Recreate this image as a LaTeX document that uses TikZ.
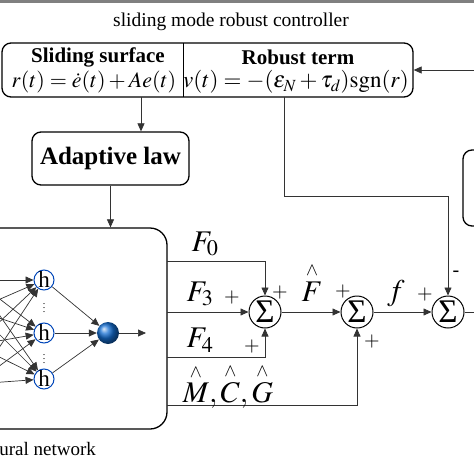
\documentclass[tikz,border=0pt]{standalone}
\usepackage{amsmath}
\usepackage{mathptmx}
\usepackage[no-math]{fontspec}
\setmainfont{Liberation Serif}
\usetikzlibrary{arrows.meta,positioning}
\tikzset{
  blk/.style={draw,rounded corners=9pt,line width=1.3pt,inner sep=0pt},
  sum/.style={circle,draw,line width=1pt,minimum size=32pt,inner sep=0pt,font=\fontsize{33}{33}\selectfont},
  hid/.style={circle,draw=blue!45!teal,line width=1pt,minimum size=20pt,inner sep=0pt,font=\fontsize{23}{23}\selectfont},
  conn/.style={draw=black!80,line width=0.7pt},
  arr/.style={conn,-{Triangle[length=8pt,width=7pt]}},
  sign/.style={inner sep=0pt,font=\fontsize{20}{20}\selectfont},
  sig/.style={inner sep=0pt,font=\fontsize{30}{30}\selectfont},
  hd/.style={inner sep=0pt,font=\fontsize{21}{21}\selectfont\bfseries},
  eq/.style={inner sep=0pt,font=\fontsize{22}{22}\selectfont},
  dots/.style={inner sep=0pt,font=\fontsize{10}{10}\selectfont},
}
\definecolor{ballblue}{RGB}{20,110,210}
\newcommand{\hatsym}[1]{\overset{\scriptscriptstyle\wedge}{#1}}

\begin{document}
\begin{tikzpicture}[x=1pt,y=-1pt]
  \useasboundingbox (0,0) rectangle (474,474);
  \fill[gray] (0,0) rectangle (474,2.5);
  \node[font=\fontsize{19.5}{20}\selectfont] (title) at (231,22) {sliding mode robust controller};

  % controller box
  \node[blk,minimum width=411pt,minimum height=54pt] (ctrl) at (207.5,70) {};
  \draw[line width=0.7pt] (183,43) -- (183,97);
  \node[hd] (surfT) at (98,57) {Sliding surface};
  \node[eq] (surfE) at (94,82) {$r(t)=\dot{e}(t)+Ae(t)$};
  \node[hd] (robT) at (298,57) {Robust term};
  \node[eq,font=\fontsize{23}{23}\selectfont] (robE) at (296,82) {$v(t)=-(\varepsilon_N+\tau_d)\mathrm{sgn}(r)$};

  \node[blk,minimum width=157pt,minimum height=53pt,font=\fontsize{25}{25}\selectfont\bfseries] (law) at (110.5,158.5) {Adaptive law};

  % neural network
  \node[blk,rounded corners=17pt,minimum width=190pt,minimum height=201pt] (nn) at (72,328.5) {};
  \node[font=\fontsize{19}{20}\selectfont] (nnlab) at (36.5,449) {Neural network};
  \node[hid] (h1) at (44,280) {h};
  \node[hid] (h2) at (44,333) {h};
  \node[hid] (h3) at (44,379) {h};
  \node[dots] (d1) at (44,305) {$\vdots$};
  \node[dots] (d2) at (44,356) {$\vdots$};
  \node[circle,shading=ball,ball color=ballblue,minimum size=22pt,inner sep=0pt] (out) at (108,333) {};
  \coordinate (nnout) at (146,333);
  \foreach \i/\y in {1/280,2/310,3/345,4/384}
    \coordinate (in\i) at (-25,\y);
  \foreach \i in {1,...,4}
    \foreach \j in {1,2,3}
      \draw[arr] (in\i) -- (h\j);
  \foreach \j in {1,2,3}
    \draw[arr] (h\j) -- (out);
  \draw[arr] (out) -- (nnout);

  % summing junctions
  \node[sum] (s1) at (265,312) {Σ};
  \node[sum] (s2) at (357,312) {Σ};
  \node[sum] (s3) at (448,312) {Σ};

  \coordinate (f0) at (167,261);
  \coordinate (f3) at (167,312);
  \coordinate (f4) at (167,357);
  \coordinate (fm) at (167,405);
  \coordinate (sl) at (141,97);
  \coordinate (rb) at (284,97);
  \coordinate (rc) at (284,196);
  \coordinate (fb) at (480,70);
  \coordinate (sout) at (480,312);

  \draw[arr] (sl) -- (sl |- law.north);
  \draw[arr] (law.south) -- (law.south |- nn.north);
  \draw[arr] (f0) -| (s1.north);
  \draw[arr] (f3) -- (s1.west);
  \draw[arr] (f4) -| (s1.south);
  \draw[arr] (fm) -| (s2.south);
  \draw[arr] (s1) -- (s2);
  \draw[arr] (s2) -- (s3);
  \draw[conn] (s3) -- (sout);
  \draw[arr] (rb) -- (rc) -| (s3.north);
  \draw[arr] (fb) -- (ctrl.east);

  % right block (cut by the frame)
  \node[blk,minimum width=60pt,minimum height=76pt] (plant) at (493,188) {};

  % labels
  \node[sig] (lf0) at (205,244) {$F_0$};
  \node[sig] (lf3) at (200,294) {$F_3$};
  \node[sig] (lf4) at (200,340) {$F_4$};
  \node[sig] (lfm) at (228,386) {$\hatsym{M},\hatsym{C},\hatsym{G}$};
  \node[sig] (lfh) at (312,282) {$\hatsym{F}$};
  \node[sig] (lff) at (396,294) {$f$};

  \node[sign] (p1) at (232,298) {$+$};
  \node[sign] (p2) at (280,293) {$+$};
  \node[sign] (p3) at (252,347) {$+$};
  \node[sign] (p4) at (343,292) {$+$};
  \node[sign] (p5) at (372,342) {$+$};
  \node[sign] (p6) at (425,295) {$+$};
  \node[sign] (m1) at (456,274) {-};
\end{tikzpicture}
\end{document}
